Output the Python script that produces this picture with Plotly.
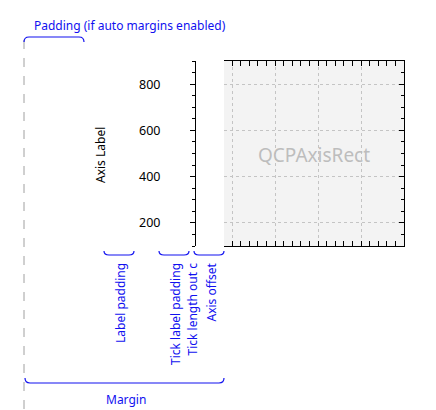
import plotly.graph_objects as go

y_ticks = [200, 400, 600, 800]
y_range = [100, 900]
x_ticks = [0, 1, 2, 3, 4]
x_range = [-0.186, 4.0]
rect_text = "QCPAxisRect"
axis_label = "Axis Label"
blue_labels = ["Label padding", "Tick label padding", "Tick length out c", "Axis offset"]
blue_label_x = [120, 175, 192, 211]

O = 8  # page body margin
W, H = 436 - O, 410 - O
L, R, T, B = 195 - O, 404 - O, 61 - O, 246 - O
def px(x): return (x - O - L) / (R - L)
def py(y): return (B - (y - O)) / (B - T)

fig = go.Figure()
fig.add_trace(go.Scatter(x=[None], y=[None], showlegend=False))
fig.add_trace(go.Scatter(x=[None], y=[None], yaxis="y2", showlegend=False))

blue = "#1010f0"
font = "Noto Sans"
ax_common = dict(showline=True, linecolor="black", linewidth=1, ticks="inside", ticklen=5,
                 tickcolor="black", gridcolor="#c4c4c4", griddash="dot", gridwidth=1, zeroline=False)
fig.update_layout(
    width=W, height=H, margin=dict(l=L, r=W - R, t=T, b=H - B),
    paper_bgcolor="white", plot_bgcolor="white", showlegend=False,
    font=dict(family=font, size=12, color="black"),
    xaxis=dict(domain=[px(224), 1], range=x_range, tickvals=x_ticks, showticklabels=False,
               mirror="allticks", minor=dict(dtick=0.2, ticks="inside", ticklen=3, tickcolor="black", showgrid=False),
               **ax_common),
    yaxis=dict(anchor="x", side="right", range=y_range, tickvals=y_ticks, showticklabels=False,
               minor=dict(dtick=50, ticks="inside", ticklen=3, tickcolor="black", showgrid=False),
               **ax_common),
    yaxis2=dict(anchor="free", position=0, overlaying="y", range=y_range, tickvals=y_ticks,
                showline=True, linecolor="black", showgrid=False, zeroline=False,
                ticks="outside", ticklen=5, tickcolor="black", ticklabelstandoff=27,
                minor=dict(dtick=50, ticks="outside", ticklen=3, tickcolor="black"),
                tickfont=dict(size=12.5, color="black")),
)

shapes = [dict(type="rect", xref="x domain", yref="y domain", x0=0, x1=1, y0=0, y1=1,
               fillcolor="#f3f3f3", line_width=0, layer="below"),
          dict(type="line", xref="paper", yref="paper", x0=px(24), x1=px(24), y0=py(40), y1=py(410),
               line=dict(color="#a0a0a0", width=1, dash="dash"))]

def brace(x1, x2, y0, d):
    r = min(5, (x2 - x1) / 2)
    pts = [(x1, y0), (x1, y0 + d), (x1 + r, y0 + d), (x2 - r, y0 + d), (x2, y0 + d), (x2, y0)]
    c = [(px(a), py(b)) for a, b in pts]
    return (f"M {c[0][0]},{c[0][1]} Q {c[1][0]},{c[1][1]} {c[2][0]},{c[2][1]} "
            f"L {c[3][0]},{c[3][1]} Q {c[4][0]},{c[4][1]} {c[5][0]},{c[5][1]}")

for x1, x2, y0, d in [(24, 84, 42, -5), (104, 134, 251, 4), (159, 189, 251, 4),
                      (194, 224, 251, 4), (25, 224, 378, 5)]:
    shapes.append(dict(type="path", xref="paper", yref="paper", path=brace(x1, x2, y0, d),
                       line=dict(color=blue, width=1.2)))
fig.update_layout(shapes=shapes)

ann = [dict(text=rect_text, x=px(314), y=py(155), font=dict(size=19, color="#bdbdbd")),
       dict(text=axis_label, x=px(100), y=py(155), textangle=-90, font=dict(size=12, color="black")),
       dict(text="Padding (if auto margins enabled)", x=px(32), y=py(25), xanchor="left",
            font=dict(size=12, color=blue)),
       dict(text="Margin", x=px(126), y=py(399), font=dict(size=12, color=blue))]
for t, x in zip(blue_labels, blue_label_x):
    ann.append(dict(text=t, x=px(x), y=py(261), yanchor="top", textangle=-90,
                    font=dict(size=12, color=blue)))
for a in ann:
    a.update(xref="paper", yref="paper", showarrow=False)
    a.setdefault("xanchor", "center")
    a.setdefault("yanchor", "middle")
fig.update_layout(annotations=ann)

fig.write_html("out.html")
